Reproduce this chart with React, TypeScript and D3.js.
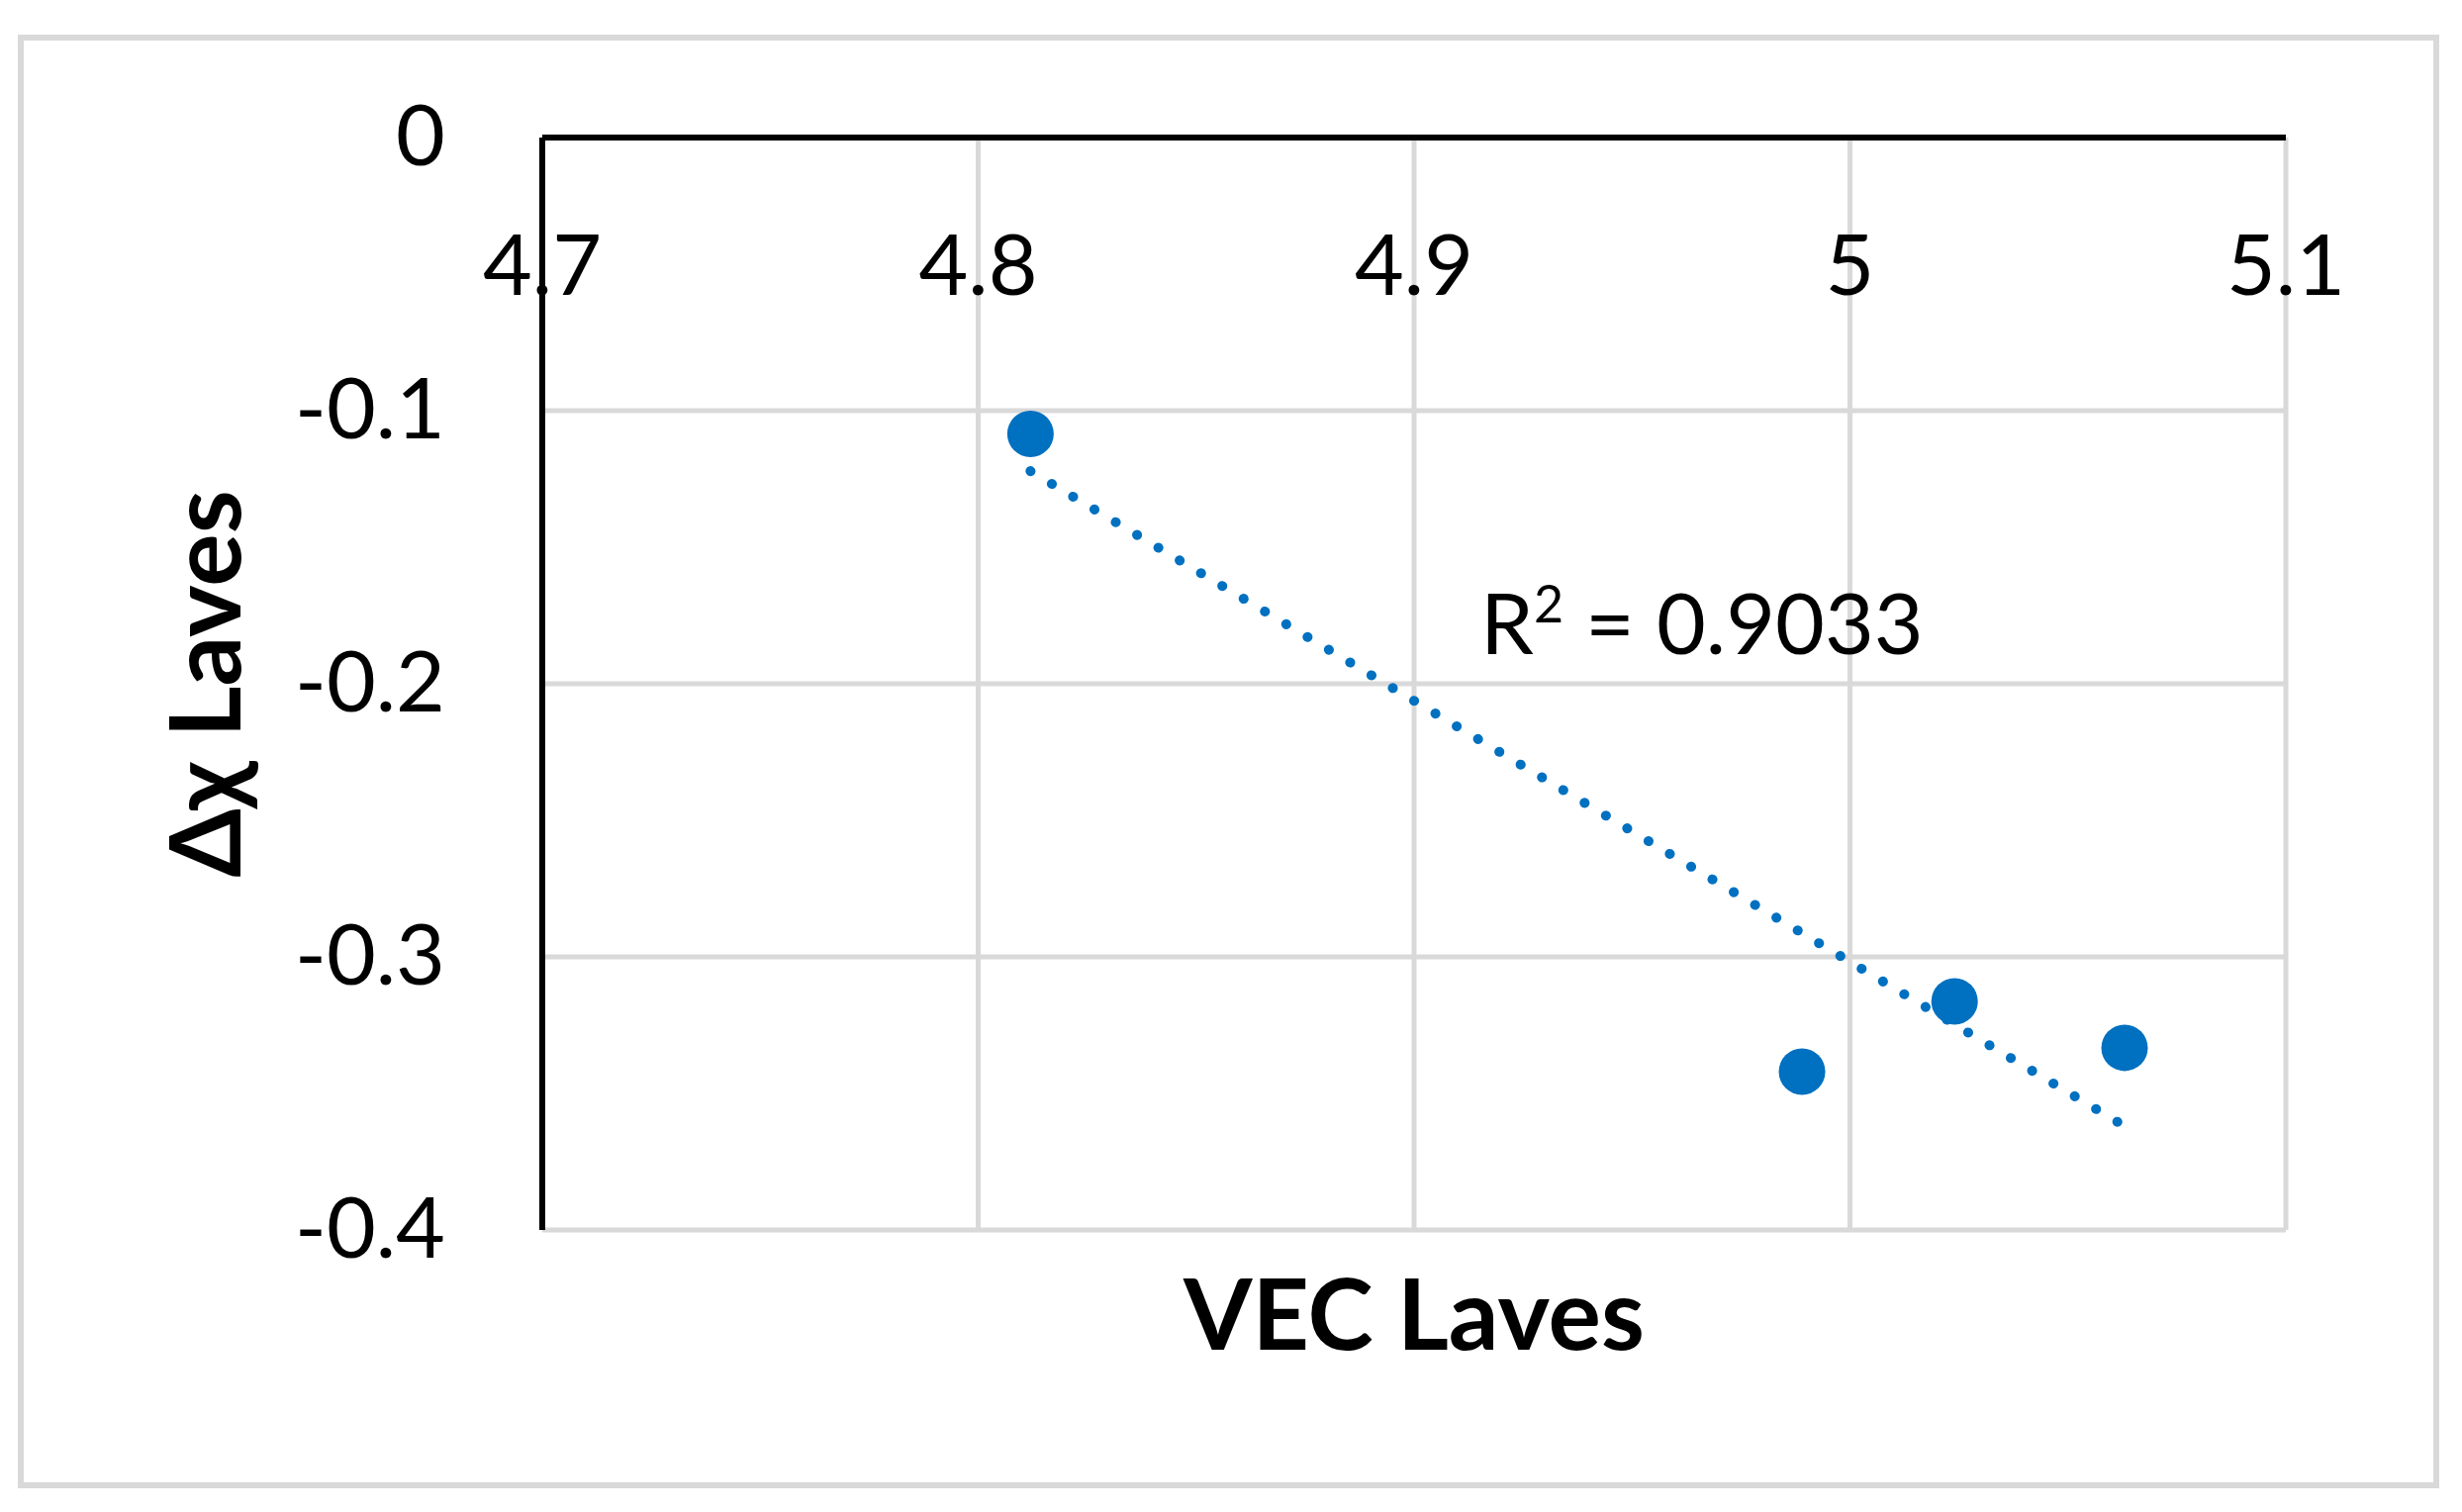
import * as d3 from "d3";

const vecLaves = [4.812, 4.989, 5.024, 5.063];
const deltaChiLaves = [-0.1085, -0.342, -0.3163, -0.3333];
const xTicks = [4.7, 4.8, 4.9, 5, 5.1];
const yTicks = [0, -0.1, -0.2, -0.3, -0.4];
const rSquared = "0.9033";
const xTitle = "VEC Laves";
const yTitle = "Δχ Laves";

const WIDTH = 2488;
const HEIGHT = 1528;
const PLOT = { left: 548, right: 2310, top: 139, bottom: 1243 };
const BLUE = "#0070C0";
const GRID = "#d9d9d9";
const FONT = "Lato, 'Open Sans', sans-serif";

const App = () => {
  const xScale = d3.scaleLinear().domain([4.7, 5.1]).range([PLOT.left, PLOT.right]);
  const yScale = d3.scaleLinear().domain([0, -0.4]).range([PLOT.top, PLOT.bottom]);

  const points = vecLaves.map((x, i) => ({ x, y: deltaChiLaves[i] }));

  // least squares trendline
  const mx = d3.mean(points, (d) => d.x)!;
  const my = d3.mean(points, (d) => d.y)!;
  const sxy = d3.sum(points, (d) => (d.x - mx) * (d.y - my));
  const sxx = d3.sum(points, (d) => (d.x - mx) ** 2);
  const slope = sxy / sxx;
  const intercept = my - slope * mx;
  const [xMin, xMax] = d3.extent(vecLaves) as [number, number];
  const trend = [xMin, xMax].map((x) => [x, slope * x + intercept] as [number, number]);

  const lineBuilder = d3
    .line<[number, number]>()
    .x((d) => xScale(d[0]))
    .y((d) => yScale(d[1]));

  return (
    <svg
      width={WIDTH}
      height={HEIGHT}
      style={{ position: "absolute", left: 0, top: 0, background: "white" }}
    >
      <rect x={21} y={38} width={2441} height={1463} fill="white" stroke={GRID} strokeWidth={6} />

      {xTicks.slice(1).map((v) => (
        <line key={`gx${v}`} x1={xScale(v)} x2={xScale(v)} y1={PLOT.top} y2={PLOT.bottom} stroke={GRID} strokeWidth={5} />
      ))}
      {yTicks.slice(1).map((v) => (
        <line key={`gy${v}`} x1={PLOT.left} x2={PLOT.right} y1={yScale(v)} y2={yScale(v)} stroke={GRID} strokeWidth={5} />
      ))}

      <line x1={PLOT.left} x2={PLOT.right} y1={yScale(0)} y2={yScale(0)} stroke="black" strokeWidth={6} />
      <line x1={xScale(4.7)} x2={xScale(4.7)} y1={PLOT.top} y2={PLOT.bottom} stroke="black" strokeWidth={6} />

      {xTicks.map((v) => (
        <text key={`tx${v}`} x={xScale(v)} y={298} textAnchor="middle" fontFamily={FONT} fontSize={86} fill="black">
          {String(v)}
        </text>
      ))}
      {yTicks.map((v) => (
        <text key={`ty${v}`} x={450} y={yScale(v) + 28} textAnchor="end" fontFamily={FONT} fontSize={86} fill="black">
          {String(v)}
        </text>
      ))}

      <path
        d={lineBuilder(trend)!}
        fill="none"
        stroke={BLUE}
        strokeWidth={10}
        strokeLinecap="round"
        strokeDasharray="0.1 25"
      />

      {points.map((p, i) => (
        <circle key={i} cx={xScale(p.x)} cy={yScale(p.y)} r={23.5} fill={BLUE} />
      ))}

      <text x={1496} y={661} fontFamily={FONT} fontSize={86} fill="black">
        R<tspan fontSize={52} dy={-32}>2</tspan>
        <tspan dy={32}>{` = ${rSquared}`}</tspan>
      </text>

      <text
        x={(PLOT.left + PLOT.right) / 2}
        y={1364}
        textAnchor="middle"
        fontFamily={FONT}
        fontWeight="bold"
        fontSize={100}
        fill="black"
      >
        {xTitle}
      </text>
      <text
        transform={`translate(243,${(PLOT.top + PLOT.bottom) / 2}) rotate(-90)`}
        textAnchor="middle"
        fontFamily={FONT}
        fontWeight="bold"
        fontSize={100}
        fill="black"
      >
        {yTitle}
      </text>
    </svg>
  );
};

export default App;
